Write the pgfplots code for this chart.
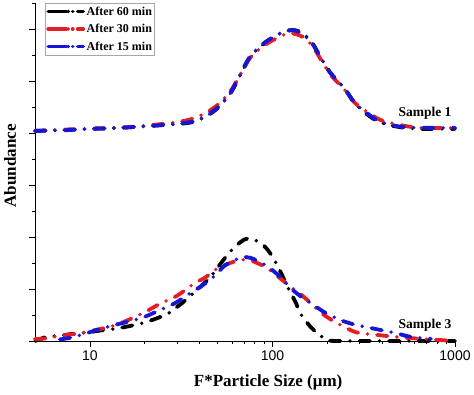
\documentclass[border=0pt]{standalone}
\usepackage{pgfplots}
\pgfplotsset{compat=1.18}
\usepackage{fontspec}
\setmainfont{Liberation Serif}
\newfontfamily\arialfont{Liberation Sans}
\definecolor{myred}{RGB}{228,30,36}
\definecolor{myblue}{RGB}{22,22,215}
\begin{document}
\begin{tikzpicture}
\path[use as bounding box] (-35pt,-54pt) rectangle (439pt,341pt);
\begin{axis}[
  at={(0pt,0pt)}, anchor=south west,
  scale only axis, width=420pt, height=338pt,
  xmode=log, xmin=5, xmax=1000, ymin=0, ymax=6.5,
  axis x line*=bottom, axis y line*=left,
  axis line style={line width=0.8pt, -},
  tick align=outside,
  major tick length=6pt, minor tick length=3.5pt,
  every tick/.style={black, line width=0.8pt},
  xtick={10,100,1000}, xticklabels={10,100,1000},
  ytick={0,1,2,3,4,5,6}, minor ytick={0.5,1.5,2.5,3.5,4.5,5.5,6.5}, yticklabels={},
  xticklabel style={font=\arialfont\fontsize{14}{14}\selectfont},
  clip=false,
  legend style={at={(0.024,1.0)}, anchor=north west, draw=gray!70, line width=0.5pt,
    font=\bfseries\fontsize{12}{12}\selectfont, row sep=5pt, inner xsep=1pt,
    nodes={inner sep=1.5pt, text height=8.5pt, text depth=1pt}},
  legend cell align=left,
  legend image code/.code={%
    \draw[#1,solid,line cap=round] (1.5pt,0pt) -- (18pt,0pt);
    \draw[#1,solid,line cap=round] (24.5pt,0pt) -- (24.51pt,0pt);
    \path (0pt,0pt) -- (35pt,0pt);},
  every axis plot/.append style={line width=3.8pt, line cap=round, dash pattern=on 10.5pt off 9.5pt on 0pt off 9.5pt, smooth, tension=0.5},
]
% Sample 1
\addplot[black] coordinates {(5,4.04) (10,4.08) (14.6,4.1) (24.3,4.15) (35.4,4.2) (42.8,4.31) (50.5,4.49) (58.7,4.76) (64.2,5.0) (75.7,5.47) (91.6,5.74) (110.7,5.92) (128.8,5.98) (146.2,5.92) (165.9,5.72) (183.6,5.45) (208.3,5.15) (248.8,4.85) (282.4,4.57) (332.5,4.35) (391.8,4.2) (505,4.11) (650,4.08) (1000,4.08)};
\addlegendentry{After 60 min}
\addplot[myred] coordinates {(5,4.04) (10,4.08) (14.6,4.1) (24.3,4.17) (31,4.22) (35.4,4.26) (42.8,4.38) (50.5,4.55) (58.7,4.8) (64.2,5.02) (75.7,5.45) (91.6,5.7) (110.7,5.86) (125.6,5.92) (146.2,5.85) (165.9,5.67) (183.6,5.42) (208.3,5.12) (248.8,4.83) (282.4,4.58) (332.5,4.4) (391.8,4.25) (505,4.15) (650,4.1) (1000,4.1)};
\addlegendentry{After 30 min}
\addplot[myblue] coordinates {(5,4.04) (7,4.05) (10,4.08) (14.6,4.1) (24.3,4.15) (35.4,4.21) (42.8,4.32) (50.5,4.5) (58.7,4.77) (64.2,5.02) (75.7,5.48) (91.6,5.75) (110.7,5.92) (128.8,5.98) (146.2,5.9) (165.9,5.71) (183.6,5.45) (208.3,5.15) (248.8,4.85) (282.4,4.58) (332.5,4.37) (391.8,4.21) (505,4.12) (650,4.1) (1000,4.1)};
\addlegendentry{After 15 min}
% Sample 3
\addplot[black, forget plot] coordinates {(5,0) (5.8,0.08) (6.84,0.1) (7.76,0.13) (8.81,0.15) (10,0.17) (11.8,0.21) (13.4,0.23) (15.6,0.27) (17.7,0.31) (20.1,0.36) (23.4,0.44) (26.9,0.53) (29.3,0.63) (32.5,0.75) (40.2,1.04) (45.5,1.22) (51.8,1.48) (58.7,1.72) (66.7,1.9) (72.9,1.97) (82.7,1.92) (91.6,1.8) (100,1.62) (110.7,1.33) (120.9,1.04) (133.7,0.75) (142.6,0.52) (161.8,0.27) (176.6,0.15) (190,0.06) (200,0.01) (230,0) (300,0) (1000,0)};
\addplot[myred, forget plot] coordinates {(5,0.04) (5.31,0.04) (6.03,0.06) (6.59,0.09) (8.81,0.15) (10,0.19) (11.35,0.23) (13.7,0.3) (16.6,0.42) (20.1,0.56) (24.3,0.72) (29.3,0.85) (33.3,0.98) (37.7,1.12) (42.8,1.22) (48.6,1.37) (58.7,1.5) (66.7,1.56) (75.7,1.55) (91.6,1.42) (110.7,1.2) (125.6,1.04) (142.6,0.9) (161.8,0.73) (183.6,0.55) (219,0.37) (285.8,0.17) (368,0.12) (505,0.07) (738,0.03) (1000,0.0)};
\addplot[myblue, forget plot] coordinates {(6.84,0.03) (7.76,0.06) (8.81,0.11) (10,0.17) (11.35,0.23) (13.7,0.31) (16.6,0.38) (20.1,0.47) (24.3,0.6) (29.3,0.73) (35.4,0.92) (40.2,1.04) (47.4,1.23) (55.2,1.46) (66.7,1.6) (75.7,1.6) (91.6,1.46) (110.7,1.23) (125.6,1.02) (142.6,0.86) (168,0.69) (195.5,0.54) (236.4,0.4) (285.8,0.31) (368,0.23) (474,0.15) (573,0.08) (738,0.04)};
\node[anchor=east, font=\bfseries\fontsize{13.5}{13.5}\selectfont] at (axis cs:1000,4.38) {Sample 1};
\node[anchor=east, font=\bfseries\fontsize{13.5}{13.5}\selectfont] at (axis cs:1000,0.31) {Sample 3};
\node[font=\bfseries\fontsize{17}{17}\selectfont] at (rel axis cs:0.555,-0.124) {F*Particle Size (μm)};
\node[rotate=90, font=\bfseries\fontsize{17}{17}\selectfont] at (rel axis cs:-0.0595,0.518) {Abundance};
\end{axis}
\end{tikzpicture}
\end{document}
